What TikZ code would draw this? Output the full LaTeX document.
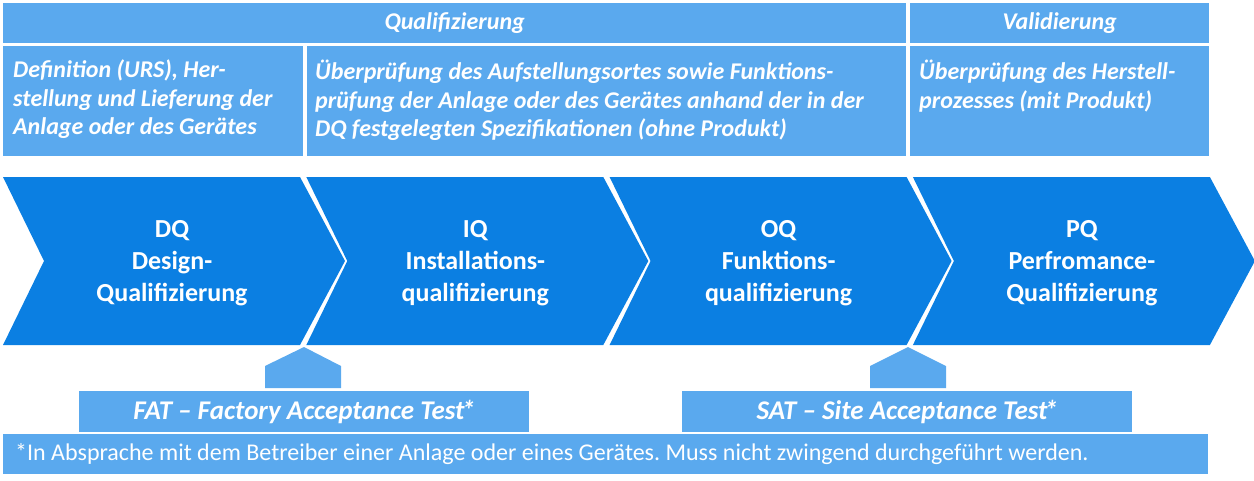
\documentclass[tikz,border=0pt]{standalone}
\usepackage{fontspec}
\setmainfont{Carlito}
\frenchspacing
\definecolor{lightblue}{HTML}{5AA9EE}
\definecolor{darkblue}{HTML}{0B7FE2}
\begin{document}
\begin{tikzpicture}[x=1pt,y=-1pt,
  cell/.style={fill=lightblue, draw=none, inner sep=0pt, anchor=north west},
  headtext/.style={text=white, font=\fontsize{24}{28}\selectfont\bfseries\itshape},
  celltext/.style={anchor=north west, inner sep=0pt, align=left, text=white,
    font=\fontsize{24}{28.5}\selectfont\bfseries\itshape},
  chevtext/.style={inner sep=0pt, align=center, text=white,
    font=\fontsize{26}{32}\selectfont\bfseries},
  testtext/.style={text=white, font=\fontsize{27}{30}\selectfont\bfseries\itshape},
  notetext/.style={anchor=west, inner sep=0pt, text=white, font=\fontsize{24}{28}\selectfont},
  chev/.style={fill=darkblue, draw=none},
  house/.style={fill=lightblue, draw=none}
]
\useasboundingbox (0,0) rectangle (1254,480);

% top table
\node[cell, minimum width=903pt, minimum height=40pt] (qh) at (3,3) {};
\node[headtext] (qht) at (qh.center) {Qualifizierung};
\node[cell, minimum width=299pt, minimum height=40pt] (vh) at (910,3) {};
\node[headtext] (vht) at (vh.center) {Validierung};
\node[cell, minimum width=300pt, minimum height=110pt] (c1) at (3,46) {};
\node[cell, minimum width=599pt, minimum height=110pt] (c2) at (307,46) {};
\node[cell, minimum width=299pt, minimum height=110pt] (c3) at (910,46) {};
\node[celltext] (t1) at (13,60) {Definition (URS), Her-\\stellung und Lieferung der\\Anlage oder des Gerätes};
\node[celltext] (t2) at (315,60) {Überprüfung des Aufstellungsortes sowie Funktions-\\prüfung der Anlage oder des Gerätes anhand der in der\\DQ festgelegten Spezifikationen (ohne Produkt)};
\node[celltext] (t3) at (919,60) {Überprüfung des Herstell-\\prozesses (mit Produkt)};

% chevrons
\foreach \i in {0,1,2,3} {
  \pgfmathsetmacro{\L}{3+303.3*\i}
  \fill[chev] (\L,177) -- (\L+297,177) -- (\L+342,261) -- (\L+297,345) -- (\L,345) -- (\L+41,261) -- cycle;
}
\node[chevtext] (dq) at (172,263) {DQ\\Design-\\Qualifizierung};
\node[chevtext] (iq) at (475.3,263) {IQ\\Installations-\\qualifizierung};
\node[chevtext] (oq) at (778.6,263) {OQ\\Funktions-\\qualifizierung};
\node[chevtext] (pq) at (1081.9,263) {PQ\\Perfromance-\\Qualifizierung};

% houses
\fill[house] (265,388) -- (265,366) -- (304,347) -- (341,366) -- (341,388) -- cycle;
\fill[house] (870,388) -- (870,366) -- (908,347) -- (946,366) -- (946,388) -- cycle;

% test boxes
\node[cell, minimum width=450pt, minimum height=41pt] (fat) at (79,391) {};
\node[testtext] (fatt) at (fat.center) {FAT – Factory Acceptance Test\kern-3pt*};
\node[cell, minimum width=450pt, minimum height=41pt] (sat) at (682,391) {};
\node[testtext] (satt) at (sat.center) {SAT – Site Acceptance Test\kern-3pt*};

% footnote
\node[cell, minimum width=1205pt, minimum height=40pt] (note) at (3,434) {};
\node[notetext] (notet) at (15,454) {*In Absprache mit dem Betreiber einer Anlage oder eines Gerätes. Muss nicht zwingend durchgeführt werden.};
\end{tikzpicture}
\end{document}
